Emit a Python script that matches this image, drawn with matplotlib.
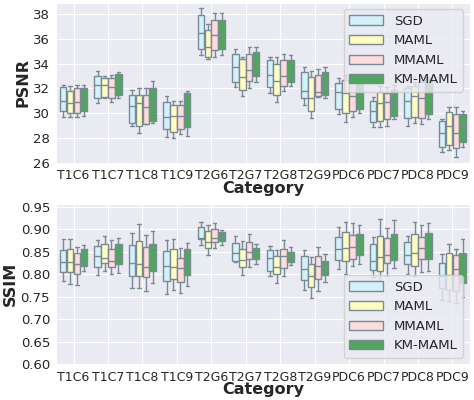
import numpy as np
import matplotlib.pyplot as plt
import seaborn as sns
from matplotlib.patches import Patch

sns.set_style("darkgrid")
plt.rcParams['font.family'] = ['DejaVu Sans']

categories = ["T1C6", "T1C7", "T1C8", "T1C9", "T2G6", "T2G7", "T2G8", "T2G9",
              "PDC6", "PDC7", "PDC8", "PDC9"]
methods = ["SGD", "MAML", "MMAML", "KM-MAML"]
colors = ["#d3f1fb", "#fffcc2", "#fddcdc", "#4ea75c"]

# five-number summaries: whislo, q1, median, q3, whishi  [category][method]
psnr = [
    [[29.7, 30.2, 31.0, 32.1, 32.3], [29.7, 30.0, 30.8, 31.8, 32.2], [29.7, 30.0, 30.9, 32.0, 32.3], [29.8, 30.2, 31.2, 32.0, 32.3]],
    [[30.8, 31.2, 32.3, 33.0, 33.4], [31.2, 31.3, 32.3, 32.8, 33.0], [30.9, 31.2, 32.1, 32.8, 33.1], [31.2, 31.5, 32.6, 33.2, 33.3]],
    [[29.0, 29.2, 30.6, 31.5, 31.9], [28.4, 29.0, 30.8, 31.5, 32.0], [29.1, 29.1, 30.5, 31.5, 32.0], [29.2, 29.4, 30.9, 32.0, 32.6]],
    [[28.1, 28.7, 29.7, 30.9, 31.4], [28.0, 28.5, 29.8, 30.7, 31.0], [28.3, 28.7, 29.8, 30.7, 31.0], [28.2, 28.9, 29.8, 31.6, 31.8]],
    [[34.7, 35.2, 36.5, 37.9, 38.5], [34.4, 34.5, 35.3, 36.7, 37.2], [34.5, 35.1, 36.3, 37.5, 38.1], [34.7, 35.2, 36.4, 37.5, 38.1]],
    [[32.1, 32.5, 33.7, 34.8, 35.2], [31.4, 31.9, 32.9, 34.4, 34.5], [32.0, 32.6, 33.5, 34.8, 35.3], [32.5, 33.0, 33.6, 34.9, 35.3]],
    [[31.6, 32.1, 33.1, 34.3, 34.5], [30.9, 31.5, 32.6, 34.0, 34.5], [31.8, 32.2, 33.0, 34.3, 34.8], [32.2, 32.5, 33.1, 34.3, 34.7]],
    [[30.7, 31.2, 31.8, 33.3, 33.7], [29.6, 30.2, 31.2, 32.9, 33.4], [31.3, 31.4, 31.7, 33.1, 33.6], [31.2, 31.5, 32.0, 33.3, 33.7]],
    [[29.9, 30.3, 31.7, 32.4, 32.8], [29.3, 30.0, 31.6, 32.7, 33.1], [29.7, 30.2, 31.4, 32.6, 32.9], [30.0, 30.3, 32.0, 32.6, 33.1]],
    [[28.9, 29.3, 30.2, 31.0, 31.3], [28.9, 29.4, 30.8, 31.7, 32.2], [29.0, 29.5, 30.9, 31.6, 32.1], [29.5, 29.8, 31.1, 31.9, 32.3]],
    [[29.0, 29.6, 31.0, 32.0, 32.2], [29.2, 29.7, 31.4, 32.2, 32.5], [29.1, 29.6, 31.2, 32.5, 33.0], [29.5, 29.9, 31.9, 32.8, 32.9]],
    [[26.9, 27.3, 28.4, 29.4, 29.5], [27.0, 27.4, 29.0, 30.1, 30.5], [26.5, 27.2, 28.4, 29.9, 30.5], [27.3, 27.7, 29.0, 29.9, 30.2]],
]
ssim = [
    [[.785, .805, .827, .853, .878], [.778, .804, .827, .855, .878], [.776, .800, .822, .848, .860], [.806, .818, .830, .855, .865]],
    [[.798, .817, .840, .863, .875], [.808, .825, .836, .868, .884], [.800, .817, .830, .856, .875], [.803, .822, .840, .867, .880]],
    [[.770, .795, .825, .865, .892], [.770, .795, .823, .873, .912], [.763, .793, .817, .860, .888], [.780, .808, .833, .868, .895]],
    [[.756, .785, .819, .852, .875], [.765, .790, .815, .855, .878], [.758, .783, .813, .835, .858], [.773, .798, .828, .855, .870]],
    [[.865, .878, .880, .905, .915], [.842, .858, .872, .895, .910], [.857, .872, .880, .900, .913], [.865, .874, .880, .893, .898]],
    [[.826, .829, .846, .870, .884], [.798, .815, .831, .856, .874], [.815, .833, .850, .872, .890], [.823, .834, .848, .857, .867]],
    [[.795, .808, .835, .853, .862], [.780, .800, .815, .840, .853], [.795, .813, .840, .855, .875], [.820, .828, .840, .850, .860]],
    [[.765, .786, .811, .840, .854], [.747, .771, .795, .822, .837], [.762, .790, .818, .840, .860], [.782, .798, .815, .830, .845]],
    [[.812, .831, .855, .883, .905], [.800, .829, .857, .893, .916], [.819, .833, .861, .888, .914], [.823, .843, .861, .889, .910]],
    [[.793, .810, .830, .867, .882], [.777, .807, .838, .884, .922], [.796, .824, .843, .880, .903], [.814, .831, .855, .889, .920]],
    [[.800, .822, .843, .872, .884], [.797, .818, .848, .889, .915], [.805, .833, .857, .882, .908], [.808, .833, .855, .892, .913]],
    [[.743, .770, .795, .825, .845], [.740, .765, .798, .847, .868], [.735, .762, .812, .843, .855], [.750, .781, .834, .846, .878]],
]


def draw(ax, data, ylabel, ylim, yticks, fmt, legend_loc):
    width = 0.8 / len(methods)
    edge = "#7a8a94"
    for j, m in enumerate(methods):
        stats = []
        for i in range(len(categories)):
            lo, q1, med, q3, hi = data[i][j]
            stats.append(dict(whislo=lo, q1=q1, med=med, q3=q3, whishi=hi, fliers=[]))
        pos = np.arange(len(categories)) - 0.4 + width * (j + 0.5)
        ax.bxp(stats, positions=pos, widths=width * 0.95, patch_artist=True,
               showfliers=False,
               boxprops=dict(facecolor=colors[j], edgecolor=edge, linewidth=1),
               medianprops=dict(color=edge, linewidth=1),
               whiskerprops=dict(color=edge, linewidth=1),
               capprops=dict(color=edge, linewidth=1))
    ax.set_xticks(np.arange(len(categories)))
    ax.set_xticklabels(categories, fontsize=9)
    ax.set_xlim(-0.5, len(categories) - 0.5)
    ax.set_ylim(*ylim)
    ax.set_yticks(yticks)
    ax.set_yticklabels([fmt.format(v) for v in yticks], fontsize=9.5)
    ax.tick_params(pad=1)
    ax.set_xlabel("Category", fontsize=11.5, fontweight="bold", labelpad=-1)
    ax.set_ylabel(ylabel, fontsize=11.5, fontweight="bold", labelpad=2)
    handles = [Patch(facecolor=c, edgecolor=edge, label=m) for c, m in zip(colors, methods)]
    ax.legend(handles=handles, loc=legend_loc, fontsize=9.5, handlelength=2.6)


fig, (ax1, ax2) = plt.subplots(2, 1, figsize=(4.74, 4.0), dpi=100)
draw(ax1, psnr, "PSNR", (26, 38.9), [26, 28, 30, 32, 34, 36, 38], "{:d}", "upper right")
draw(ax2, ssim, "SSIM", (0.6, 0.955), [0.60, 0.65, 0.70, 0.75, 0.80, 0.85, 0.90, 0.95], "{:.2f}", "lower right")
fig.tight_layout(pad=0.2, h_pad=0.4)
fig.savefig("out.png")
